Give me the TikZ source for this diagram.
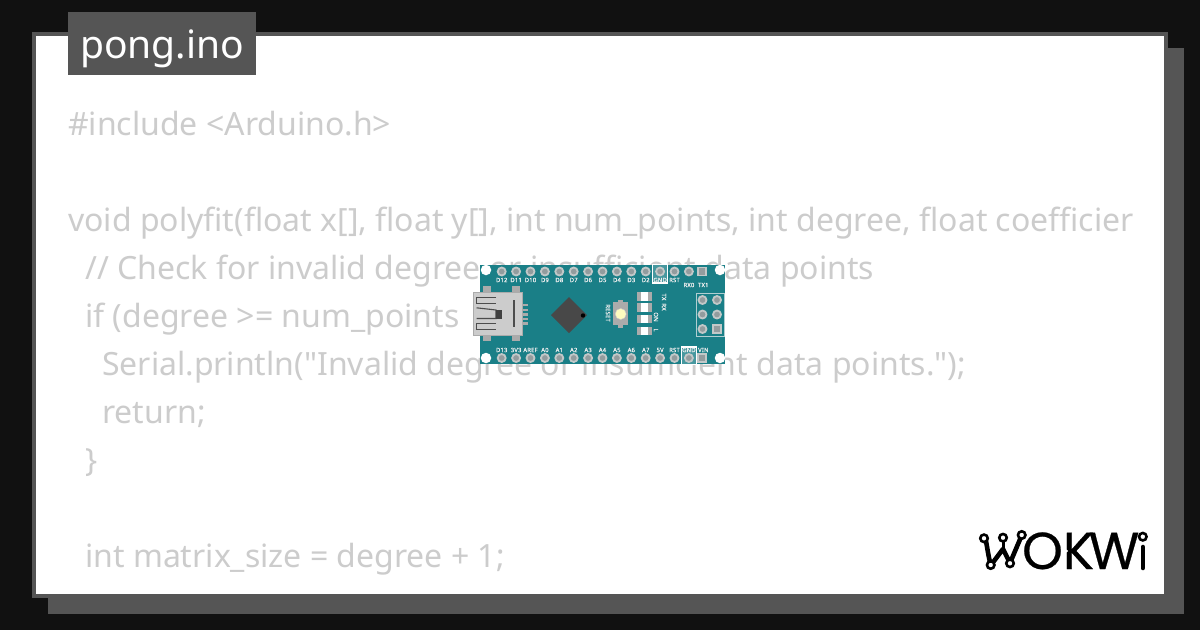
\documentclass[tikz,border=0pt]{standalone}
\usepackage{fontspec}
\setmainfont{Noto Sans}
\newfontfamily\codefont{Noto Sans}
\newfontfamily\logofont[FakeBold=0.5]{Poppins}
\newfontfamily\silkfont[LetterSpace=4,FakeBold=0.8]{Noto Sans}
\usetikzlibrary{positioning}
\definecolor{pagedark}{HTML}{111111}
\definecolor{framegray}{HTML}{555555}
\definecolor{codegray}{HTML}{CCCCCC}
\definecolor{boardteal}{HTML}{1A7F87}
\definecolor{pingray}{HTML}{C2C8C8}
\definecolor{pincore}{HTML}{929C9E}
\definecolor{tabgray}{HTML}{ABABAB}
\definecolor{silkwhite}{HTML}{F0F0F0}
\tikzset{
  codeline/.style={anchor=base west,inner sep=0pt,text=codegray,font=\codefont\fontsize{32}{32}\selectfont},
  pinhole/.style={circle,draw=pingray,line width=1.8pt,fill=pincore,minimum size=8pt,inner sep=0pt},
  squarepin/.style={rectangle,draw=pingray,line width=1.8pt,fill=pincore,minimum size=8pt,inner sep=0pt},
  mounthole/.style={circle,fill=white,minimum size=10.5pt,inner sep=0pt},
  silklabel/.style={inner sep=0pt,text=silkwhite,font=\silkfont\fontsize{5.8}{6}\selectfont},
  logostroke/.style={line width=4.6pt,line cap=round,line join=round,black},
  logoletter/.style={inner sep=0pt,anchor=base,text=black,font=\logofont\fontsize{52}{52}\selectfont},
  logoring/.style={circle,draw=black,line width=2.6pt,fill=white,minimum size=7.5pt,inner sep=0pt},
}
\begin{document}
\begin{tikzpicture}[x=1pt,y=-1pt]
\useasboundingbox (0,0) rectangle (1200,630);
% Drawing page and frame
\fill[pagedark] (0,0) rectangle (1200,630);
\fill[framegray] (48,48) rectangle (1184,614);
\draw[framegray,line width=4pt,fill=white] (34,34) rectangle (1166,596);
\node[fill=framegray,minimum width=188pt,minimum height=63pt,inner sep=0pt,anchor=north west] (titlebox) at (68,12) {};
\node[inner sep=0pt,anchor=base,text=white,font=\fontsize{39}{40}\selectfont] (title) at (162,58) {pong.ino};
% Drawing code lines
\node[codeline] (code1) at (68,135) {\#include <Arduino.h>};
\node[codeline] (code2) at (68,231) {void polyfit(float x[], float y[], int num\_points, int degree, float coefficier};
\node[codeline] (code3) at (85,279) {// Check for invalid degree or insufficient data points};
\node[codeline] (code4) at (85,327) {if (degree >= num\_points};
\node[codeline] (code5) at (102,375) {Serial.println("Invalid degree or insufficient data points.");};
\node[codeline] (code6) at (102,423) {return;};
\node[codeline] (code7) at (85,471) {\}};
\node[codeline] (code8) at (85,567) {int matrix\_size = degree + 1;};
% Drawing board
\fill[boardteal] (480,265) rectangle (725,364);
\foreach \cx/\cy in {486/270,486/358,720/270,720/358} \node[mounthole] at (\cx,\cy) {};
% Drawing pin highlights
\draw[white,line width=1.2pt,fill=white,fill opacity=0.2] (652.8,264.8) rectangle (667.2,283);
\draw[white,line width=1.2pt,fill=white,fill opacity=0.2] (681.2,347) rectangle (696.8,364.6);
% Drawing pin rows
\foreach \i/\ttxt/\btxt in {0/D12/D13,1/D11/3V3,2/D10/AREF,3/D9/A0,4/D8/A1,5/D7/A2,6/D6/A3,7/D5/A4,8/D4/A5,9/D3/A6,10/D2/A7,11/GND/5V,12/RST/RST,13/RX0/GND,14/TX1/VIN} {
  \pgfmathsetmacro{\px}{501.7+14.4*\i}
  \ifnum\i<13
    \node[silklabel] (toplabel\i) at (\px,280) {\ttxt};
  \else
    \node[silklabel] (toplabel\i) at (\px,285) {\ttxt};
  \fi
  \node[silklabel] (botlabel\i) at (\px,350) {\btxt};
}
\foreach \i in {0,...,13} {
  \pgfmathsetmacro{\px}{501.7+14.4*\i}
  \node[pinhole] (toppin\i) at (\px,271.5) {};
  \node[pinhole] (botpin\i) at (\px,358) {};
}
\node[squarepin] (toppin14) at (702.3,271.5) {};
\node[squarepin] (botpin14) at (702.3,358) {};
% Drawing USB connector
\fill[tabgray] (483,286) rectangle (490.7,341);
\fill[tabgray] (511.7,286) rectangle (520,341);
\foreach \uy in {305,310,314.3,319,323.3} \fill[tabgray] (522,\uy-1.4) rectangle (527.5,\uy+1.4);
\draw[tabgray,line width=0.8pt,fill=codegray] (473.8,292.3) rectangle (522.7,335);
\draw[black!70,line width=1.3pt] (514,300) -- (514,326.7);
\draw[black!70,line width=1.1pt] (496,297.8) -- (476.5,297.8) -- (476.5,303.3) -- (496,303.3);
\draw[black!70,line width=1.1pt] (496,323.5) -- (476.5,323.5) -- (476.5,329.5) -- (496,329.5);
\draw[black!70,line width=1.1pt] (476.5,307.8) -- (496,310) -- (496,318.5) -- (476.5,318.5);
\fill[black!75] (496,309.5) rectangle (501.7,318.5);
% Drawing chip
\fill[framegray!85!black] (569,297) -- (587,315) -- (569,333) -- (551,315) -- cycle;
\fill[black] (583,315.5) circle (2.2);
% Drawing reset button
\fill[tabgray] (618.3,300) rectangle (623.3,327.7);
\fill[tabgray] (613.3,302.3) rectangle (628.3,324.5);
\fill[yellow!25!white,draw=black!20] (620.7,314) circle (5.5);
\node[silklabel,rotate=-90] (resetlabel) at (608,313) {RESET};
% Drawing LEDs
\foreach \ly in {296.5,307.5,319,331} {
  \fill[tabgray] (636.7,\ly-4.2) rectangle (651.7,\ly+4.2);
  \fill[white] (640.7,\ly-4.2) rectangle (647.7,\ly+4.2);
}
\node[silklabel,rotate=-90] (txlabel) at (664,297) {TX};
\node[silklabel,rotate=-90] (rxlabel) at (664,307) {RX};
\node[silklabel,rotate=-90] (onlabel) at (656,317) {ON};
\node[silklabel,rotate=-90] (llabel) at (656,330) {L};
% Drawing ICSP header
\draw[silkwhite!70!boardteal,line width=0.8pt] (696,293) rectangle (724,336);
\foreach \ix in {702.5,717} \foreach \iy in {300,314.5} \node[pinhole] at (\ix,\iy) {};
\node[pinhole] (icsp5) at (702.5,329) {};
\node[squarepin] (icsp6) at (717,329) {};
% Drawing logo
\draw[logostroke] (986,541) .. controls (988,552) and (989,560) .. (991,565) -- (1003,549) -- (1010,563) -- (1021,537);
\draw[logostroke,line width=3pt] (1003,549) -- (1003,540);
\node[logoring] (ring1) at (984,538.3) {};
\node[logoring] (ring2) at (1003,537.7) {};
\node[logoring] (ring3) at (1021.7,535) {};
\node[logoring] (ring4) at (990.7,565) {};
\node[logoring] (ring5) at (1010,563.3) {};
\node[logoletter] (letterO) at (1042.5,569) {O};
\node[logoletter] (letterK) at (1078.5,569) {K};
\node[logoletter] (letterW) at (1114,569) {W};
\fill[white] (1066.5,551) circle (1.5);
\draw[logostroke] (1142.8,547) -- (1142.8,568);
\node[logoring] (ring6) at (1142.8,536.7) {};
\end{tikzpicture}
\end{document}
